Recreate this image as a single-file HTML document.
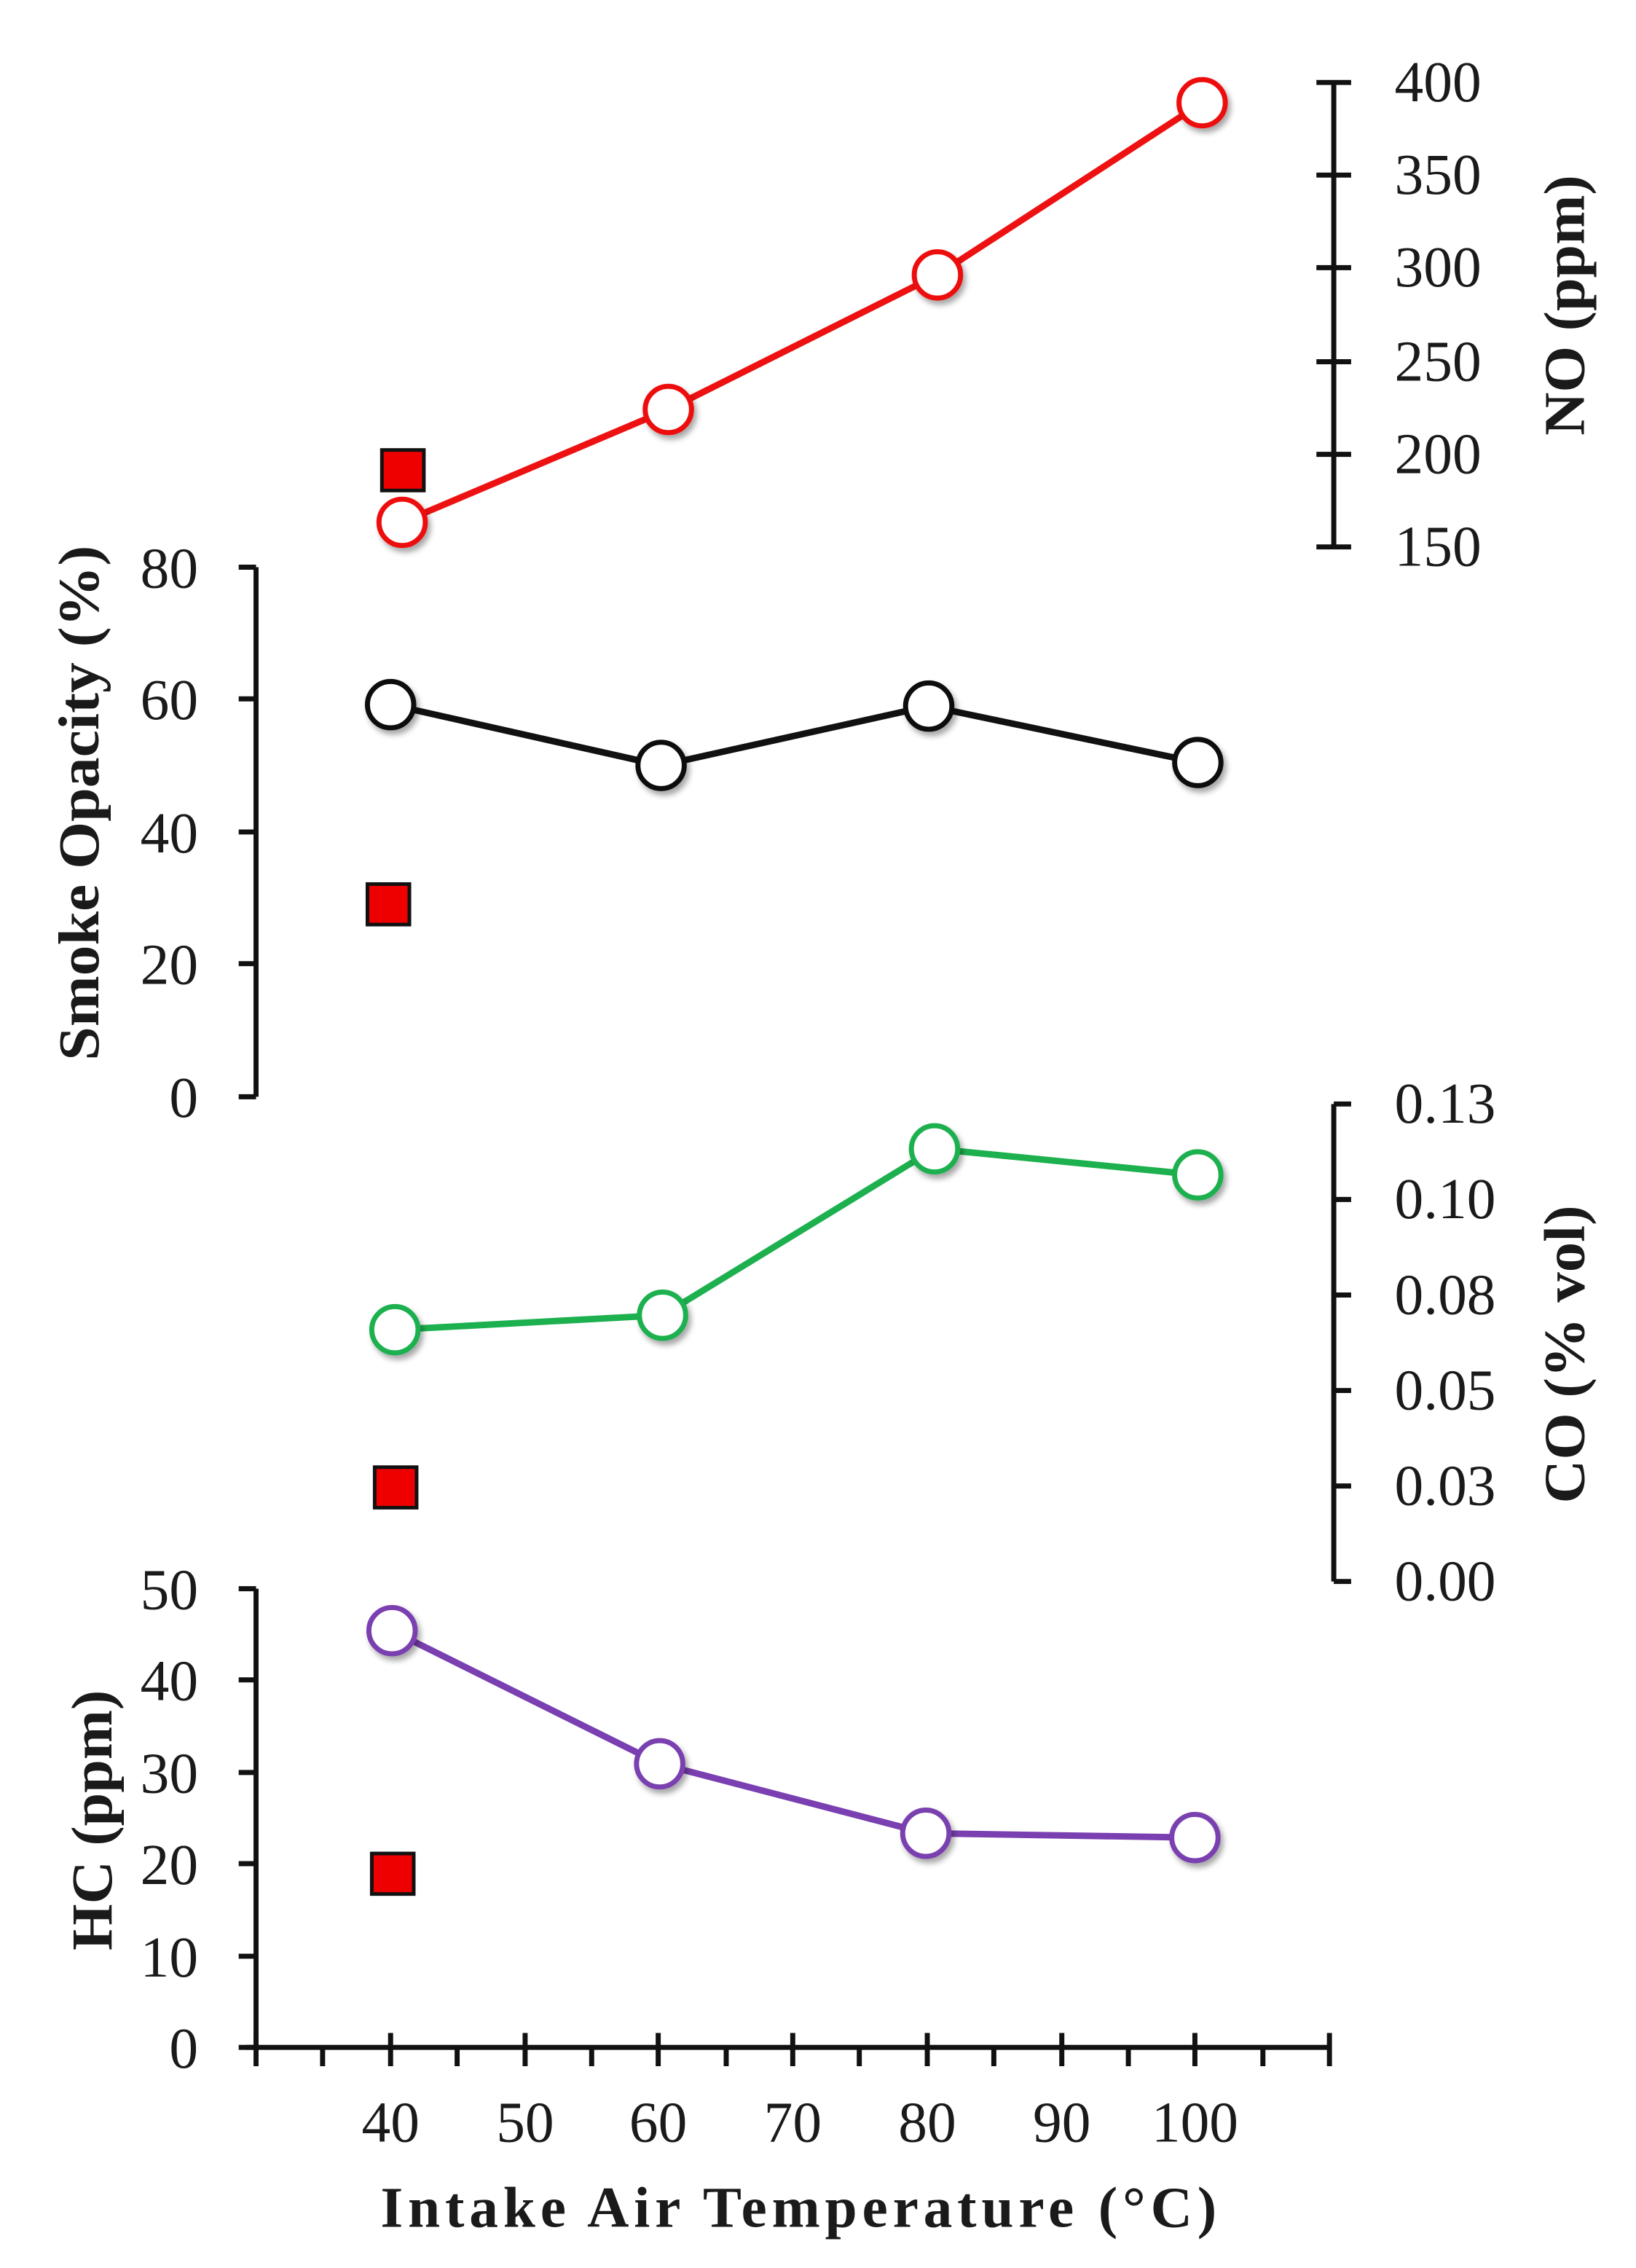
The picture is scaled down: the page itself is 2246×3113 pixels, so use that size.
<!DOCTYPE html>
<html><head><meta charset="utf-8"><style>
html,body{margin:0;padding:0;background:#fff}
svg{display:block}
text{font-family:"Liberation Serif",serif;fill:#1a1a1a}
</style></head><body>
<svg width="2246" height="3113" viewBox="0 0 1123 1556.5" xmlns="http://www.w3.org/2000/svg">
<defs><filter id="sh" x="-50%" y="-50%" width="200%" height="200%"><feDropShadow dx="2" dy="3" stdDeviation="2" flood-color="#000" flood-opacity="0.35"/></filter></defs>
<g transform="scale(0.993)">
<g stroke="#111" stroke-width="3.5" fill="none">
<line x1="922" y1="57" x2="922" y2="378"/>
<line x1="910" y1="57" x2="934" y2="57"/><line x1="910" y1="121" x2="934" y2="121"/><line x1="910" y1="185" x2="934" y2="185"/><line x1="910" y1="250" x2="934" y2="250"/><line x1="910" y1="314" x2="934" y2="314"/><line x1="910" y1="378" x2="934" y2="378"/>
<line x1="177" y1="392" x2="177" y2="758"/>
<line x1="165" y1="392" x2="177" y2="392"/><line x1="165" y1="483" x2="177" y2="483"/><line x1="165" y1="575" x2="177" y2="575"/><line x1="165" y1="666" x2="177" y2="666"/><line x1="165" y1="758" x2="177" y2="758"/>
<line x1="922" y1="763" x2="922" y2="1093"/>
<line x1="922" y1="763" x2="934" y2="763"/><line x1="922" y1="829" x2="934" y2="829"/><line x1="922" y1="895" x2="934" y2="895"/><line x1="922" y1="961" x2="934" y2="961"/><line x1="922" y1="1027" x2="934" y2="1027"/><line x1="922" y1="1093" x2="934" y2="1093"/>
<line x1="177" y1="1098" x2="177" y2="1415"/>
<line x1="165" y1="1098" x2="177" y2="1098"/><line x1="165" y1="1161" x2="177" y2="1161"/><line x1="165" y1="1225" x2="177" y2="1225"/><line x1="165" y1="1288" x2="177" y2="1288"/><line x1="165" y1="1352" x2="177" y2="1352"/><line x1="165" y1="1415" x2="177" y2="1415"/>
<line x1="170" y1="1415" x2="919" y2="1415"/>
<g>
<line x1="177" y1="1405" x2="177" y2="1428"/><line x1="223" y1="1415" x2="223" y2="1428"/><line x1="270" y1="1405" x2="270" y2="1428"/><line x1="316" y1="1415" x2="316" y2="1428"/><line x1="363" y1="1405" x2="363" y2="1428"/><line x1="409" y1="1415" x2="409" y2="1428"/><line x1="455" y1="1405" x2="455" y2="1428"/><line x1="502" y1="1415" x2="502" y2="1428"/><line x1="548" y1="1405" x2="548" y2="1428"/><line x1="594" y1="1415" x2="594" y2="1428"/><line x1="641" y1="1405" x2="641" y2="1428"/><line x1="687" y1="1415" x2="687" y2="1428"/><line x1="734" y1="1405" x2="734" y2="1428"/><line x1="780" y1="1415" x2="780" y2="1428"/><line x1="826" y1="1405" x2="826" y2="1428"/><line x1="873" y1="1415" x2="873" y2="1428"/><line x1="919" y1="1405" x2="919" y2="1428"/>
</g>
</g>
<g font-size="40">
<text x="964" y="70">400</text><text x="964" y="134">350</text><text x="964" y="198">300</text><text x="964" y="263">250</text><text x="964" y="327">200</text><text x="964" y="391">150</text>
<text x="964" y="776">0.13</text><text x="964" y="842">0.10</text><text x="964" y="908">0.08</text><text x="964" y="974">0.05</text><text x="964" y="1040">0.03</text><text x="964" y="1106">0.00</text>
</g>
<g font-size="40" text-anchor="end">
<text x="137" y="406">80</text><text x="137" y="497">60</text><text x="137" y="589">40</text><text x="137" y="680">20</text><text x="137" y="772">0</text>
<text x="137" y="1112">50</text><text x="137" y="1175">40</text><text x="137" y="1239">30</text><text x="137" y="1302">20</text><text x="137" y="1366">10</text><text x="137" y="1429">0</text>
</g>
<g font-size="40" text-anchor="middle">
<text x="270" y="1480">40</text><text x="363" y="1480">50</text><text x="455" y="1480">60</text><text x="548" y="1480">70</text><text x="641" y="1480">80</text><text x="734" y="1480">90</text><text x="826" y="1480">100</text>
</g>
<g font-size="40" font-weight="bold" text-anchor="middle">
<text x="552" y="1539" textLength="578" lengthAdjust="spacing">Intake Air Temperature (°C)</text>
<text transform="translate(1095,211) rotate(-90)" textLength="180" lengthAdjust="spacingAndGlyphs">NO (ppm)</text>
<text transform="translate(1095,936) rotate(-90)" textLength="206" lengthAdjust="spacingAndGlyphs">CO (% vol)</text>
<text transform="translate(68,555) rotate(-90)" textLength="356" lengthAdjust="spacingAndGlyphs">Smoke Opacity (%)</text>
<text transform="translate(77,1258) rotate(-90)" textLength="180" lengthAdjust="spacingAndGlyphs">HC (ppm)</text>
</g>
<g fill="none" stroke-width="4.5">
<polyline stroke="#ee1111" points="278,361 462,283 648,190 831,71"/>
<polyline stroke="#111" points="270,487 457,529 642,488 828,527"/>
<polyline stroke="#1db04f" points="273,919 458,909 646,794 828,812"/>
<polyline stroke="#7a3fb0" points="271,1127 456,1219 640,1267 826,1270"/>
</g>
<g fill="#fff" stroke-width="3.5" filter="url(#sh)">
<g stroke="#ee1111"><circle cx="278" cy="361" r="16"/><circle cx="462" cy="283" r="16"/><circle cx="648" cy="190" r="16"/><circle cx="831" cy="71" r="16"/></g>
<g stroke="#111"><circle cx="270" cy="487" r="16"/><circle cx="457" cy="529" r="16"/><circle cx="642" cy="488" r="16"/><circle cx="828" cy="527" r="16"/></g>
<g stroke="#1db04f"><circle cx="273" cy="919" r="16"/><circle cx="458" cy="909" r="16"/><circle cx="646" cy="794" r="16"/><circle cx="828" cy="812" r="16"/></g>
<g stroke="#7a3fb0"><circle cx="271" cy="1127" r="16"/><circle cx="456" cy="1219" r="16"/><circle cx="640" cy="1267" r="16"/><circle cx="826" cy="1270" r="16"/></g>
</g>
<g fill="#ee0000" stroke="#111" stroke-width="2.5">
<rect x="264" y="311" width="29" height="28"/>
<rect x="254" y="611" width="29" height="28"/>
<rect x="259" y="1014" width="29" height="28"/>
<rect x="257" y="1281" width="29" height="28"/>
</g>
</g>
</svg>
</body></html>
